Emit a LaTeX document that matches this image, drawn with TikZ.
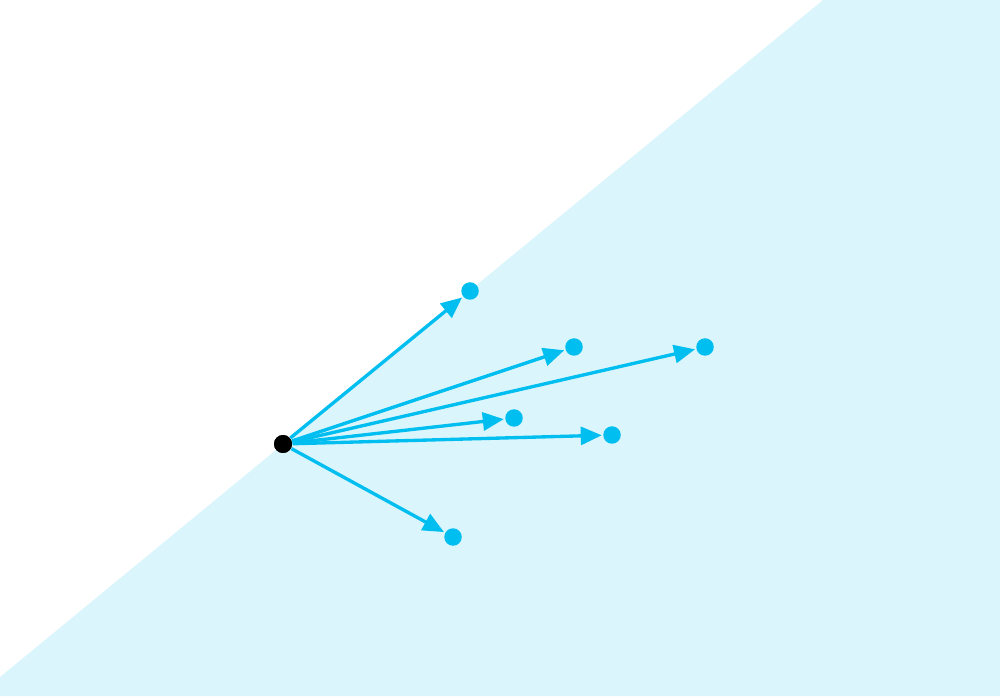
\documentclass[tikz,border=0pt]{standalone}
\usetikzlibrary{arrows.meta}
\usetikzlibrary{positioning}
\definecolor{pointblue}{RGB}{0,190,240}
\definecolor{halfplane}{RGB}{219,245,252}

\begin{document}
\begin{tikzpicture}
		\tikzstyle{Point} = [circle, fill=pointblue, inner sep=0pt, minimum size=1.75mm, outer sep=0.15mm]
		\tikzstyle{Origin} = [circle, fill=black, inner sep=0pt, minimum size=1.8mm]
		\tikzstyle{Vec} = [pointblue, line width=0.95pt, -{Triangle[length=2.1mm,width=1.8mm]}]

		%Fix the size of the picture
		\useasboundingbox (0,0) rectangle (10,6.96);

		%Draw half plane
		\fill[halfplane] (0,0.19) -- (8.23,6.96) -- (10,6.96) -- (10,0) -- (0,0) -- cycle;

		%Draw points
		\node[Origin] (O) at (2.83,2.52){};
		\node[Point] (A) at (4.70,4.05){};
		\node[Point] (B) at (5.74,3.49){};
		\node[Point] (C) at (7.05,3.49){};
		\node[Point] (D) at (5.14,2.78){};
		\node[Point] (E) at (6.12,2.61){};
		\node[Point] (F) at (4.53,1.59){};

		%Draw vectors
		\foreach \p in {A,B,C,D,E,F}
			\draw[Vec] (O) -- (\p);

		%Origin on top
		\node[Origin] at (O){};
	\end{tikzpicture}
\end{document}
